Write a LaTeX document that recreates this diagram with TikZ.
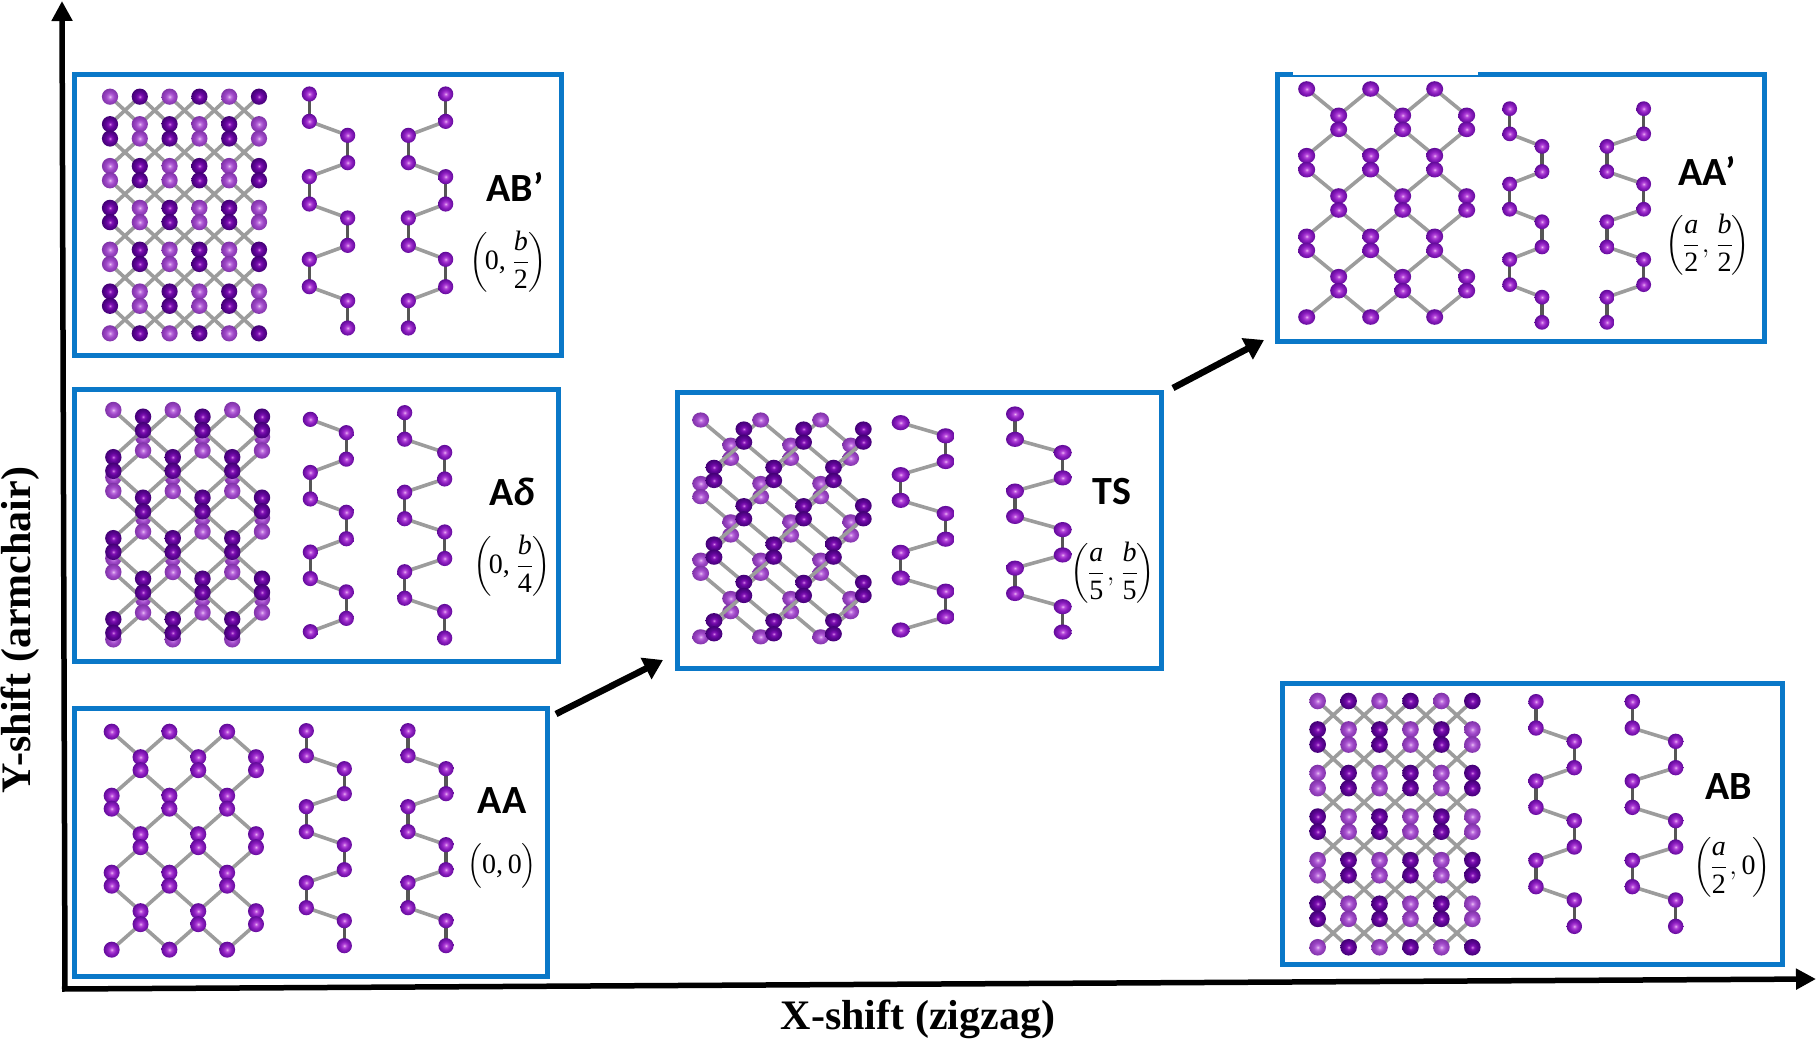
\RequirePackage{fix-cm}
\documentclass[tikz,border=0pt]{standalone}
\usepackage{exscale}
\usepackage{fontspec}
\usetikzlibrary{arrows.meta}
\setmainfont{Liberation Serif}
\newfontfamily\timesf{Liberation Serif}
\newfontfamily\lblf{Carlito}
\definecolor{panelblue}{HTML}{0A78C8}
\definecolor{bondlight}{HTML}{9C9C9C}
\definecolor{bonddark}{HTML}{565656}
\pgfdeclareradialshading{atommid}{\pgfpointorigin}{rgb(0bp)=(0.93,0.72,0.96); rgb(5bp)=(0.72,0.30,0.86); rgb(13bp)=(0.56,0.12,0.76); rgb(25bp)=(0.38,0.04,0.60); rgb(50bp)=(0.38,0.04,0.60)}
\pgfdeclareradialshading{atomdark}{\pgfpointorigin}{rgb(0bp)=(0.85,0.55,0.92); rgb(5bp)=(0.52,0.08,0.72); rgb(13bp)=(0.38,0.02,0.60); rgb(25bp)=(0.26,0.00,0.46); rgb(50bp)=(0.26,0.00,0.46)}
\pgfdeclareradialshading{atomlight}{\pgfpointorigin}{rgb(0bp)=(0.93,0.78,0.96); rgb(5bp)=(0.75,0.45,0.88); rgb(13bp)=(0.62,0.28,0.78); rgb(25bp)=(0.50,0.20,0.66); rgb(50bp)=(0.50,0.20,0.66)}
\tikzset{
  panelbox/.style={draw=panelblue,line width=5pt,fill=white,inner sep=0pt},
  bondS/.style={draw=bondlight,line width=3.6pt},
  bondV/.style={draw=bonddark,line width=3.6pt},
  axisline/.style={draw=black,line width=5.5pt,-{Triangle[length=20pt,width=20pt]}},
  shiftarrow/.style={draw=black,line width=6.5pt,-{Triangle[length=19pt,width=23pt]}},
  structname/.style={font=\lblf\bfseries\fontsize{40}{44}\selectfont,inner sep=0pt},
  shiftval/.style={inner sep=0pt,font=\fontsize{28}{32}\selectfont},
  axislabel/.style={font=\bfseries\fontsize{42}{46}\selectfont,inner sep=0pt},
  zoomed/.style={x=0.33333pt,y=-0.33333pt,shift={#1}}
}
% arguments: x0 dx y0 a v parity kmin kmax; look from \atomsh \arx \ary
\newcommand\latLayer[8]{%
  \foreach \k in {#7,...,#8}{%
    \pgfmathsetmacro\yk{#3+ceil(\k/2)*#4+floor(\k/2)*#5}%
    \pgfmathtruncatemacro\gk{ceil(\k/2)}%
    \foreach \c in {0,...,5}{%
      \pgfmathtruncatemacro\on{mod(\gk+\c+#6,2)==0 ? 1 : 0}%
      \ifnum\on=1 \coordinate (L-\k-\c) at ({#1+\c*#2},\yk);\fi
    }%
  }%
  \foreach \k in {#7,...,#8}{%
    \pgfmathtruncatemacro\gk{ceil(\k/2)}%
    \pgfmathtruncatemacro\odd{mod(\k,2)}%
    \pgfmathtruncatemacro\nk{\k+1}%
    \foreach \c in {0,...,5}{%
      \pgfmathtruncatemacro\on{mod(\gk+\c+#6,2)==0 ? 1 : 0}%
      \ifnum\on=1
        \ifnum\k<#8
          \ifnum\odd=1
            \draw[bondV] (L-\k-\c) -- (L-\nk-\c);
          \else
            \pgfmathtruncatemacro\cl{\c-1}%
            \pgfmathtruncatemacro\cr{\c+1}%
            \ifnum\c>0 \draw[bondS] (L-\k-\c) -- (L-\nk-\cl);\fi
            \ifnum\c<5 \draw[bondS] (L-\k-\c) -- (L-\nk-\cr);\fi
          \fi
        \fi
      \fi
    }%
  }%
  \foreach \k in {#7,...,#8}{%
    \pgfmathtruncatemacro\gk{ceil(\k/2)}%
    \foreach \c in {0,...,5}{%
      \pgfmathtruncatemacro\on{mod(\gk+\c+#6,2)==0 ? 1 : 0}%
      \ifnum\on=1
        \shade[shading=\atomsh] (L-\k-\c) ellipse [x radius=\arx pt,y radius=\ary pt];
      \fi
    }%
  }%
}
% arguments: xA xB y0 v g start
\newcommand\chainRow[6]{%
  \pgfmathtruncatemacro\kend{#6+11}%
  \foreach \k in {#6,...,\kend}{%
    \pgfmathtruncatemacro\sd{mod(\k,4)<2 ? 0 : 1}%
    \pgfmathsetmacro\yk{#3+ceil(\k/2)*#4+floor(\k/2)*#5-#6*#4}%
    \pgfmathsetmacro\xk{\sd==0 ? #1 : #2}%
    \coordinate (C-\k) at (\xk,\yk);
  }%
  \foreach \k in {#6,...,\kend}{%
    \pgfmathtruncatemacro\nk{\k+1}%
    \pgfmathtruncatemacro\odd{mod(\k,2)}%
    \ifnum\k<\kend
      \ifnum\odd=0 \draw[bondV] (C-\k) -- (C-\nk);
      \else \draw[bondS] (C-\k) -- (C-\nk);\fi
    \fi
  }%
  \foreach \k in {#6,...,\kend}{%
    \shade[shading=\atomsh] (C-\k) ellipse [x radius=\arx pt,y radius=\ary pt];
  }%
}
\newcommand\ro[1]{\hbox{\timesf#1}}
\newcommand\iv[1]{\hbox{\timesf\itshape#1}}
\newcommand\shiftfrac[1]{\nulldelimiterspace=3.4pt$\displaystyle\left(\mkern-2mu#1\mkern-2mu\right)$}
\begin{document}
\begin{tikzpicture}[x=1pt,y=-1pt]
\useasboundingbox (0,0) rectangle (1816,1042);
% panels
\node[panelbox,minimum width=486.5pt,minimum height=280.5pt] (pABp) at (317.75,214.75) {};
\node[panelbox,minimum width=483.5pt,minimum height=271.5pt] (pAd) at (316.25,525.25) {};
\node[panelbox,minimum width=473pt,minimum height=268pt] (pAA) at (311,842) {};
\node[panelbox,minimum width=484pt,minimum height=276pt] (pTS) at (919.5,530.5) {};
\node[panelbox,minimum width=487pt,minimum height=267pt] (pAAp) at (1521,208) {};
\node[panelbox,minimum width=499.5pt,minimum height=281pt] (pAB) at (1532.25,824) {};
\fill[white] (1293,72.3) rectangle (1478,74.5);
% AB'
\begin{scope}[zoomed={(60pt,-60pt)}]
  \def\arx{8.1}\def\ary{8.1}
  \def\atomsh{atomlight}\latLayer{150}{89.4}{110}{82.5}{43}{0}{0}{11}
  \def\atomsh{atomdark}\latLayer{150}{89.4}{110}{82.5}{43}{1}{0}{11}
  \def\arx{7.6}\def\ary{7.6}\def\atomsh{atommid}
  \chainRow{748}{863}{102}{82}{42}{0}
  \chainRow{1157}{1045}{102}{82}{42}{0}
\end{scope}
% A delta
\begin{scope}[zoomed={(60pt,-380pt)}]
  \def\arx{8.2}\def\ary{8.2}
  \def\atomsh{atomlight}\latLayer{160}{89.2}{90}{80.5}{41}{0}{0}{11}
  \def\atomsh{atomdark}\latLayer{160}{89.2}{29.5}{80.5}{41}{0}{1}{12}
  \def\arx{7.6}\def\ary{7.6}\def\atomsh{atommid}
  \chainRow{751}{859}{118}{79.4}{40}{1}
  \chainRow{1034}{1154}{98}{79.5}{39.8}{0}
\end{scope}
% AA
\begin{scope}[zoomed={(60pt,-700pt)}]
  \def\arx{8}\def\ary{8}\def\atomsh{atommid}
  \latLayer{155}{86.6}{95}{76.5}{39}{0}{0}{11}
  \def\arx{7.6}\def\ary{7.6}
  \chainRow{739}{853}{92}{75}{39}{0}
  \chainRow{1044}{1158}{92}{75}{39}{0}
\end{scope}
% TS
\begin{scope}[zoomed={(670pt,-385pt)}]
  \def\arx{8.4}\def\ary{7.6}
  \def\atomsh{atomlight}\latLayer{92}{90}{105}{75.5}{39.5}{0}{0}{11}
  \def\atomsh{atomdark}\latLayer{132}{89.6}{56.5}{75.5}{39.5}{0}{1}{12}
  \def\arx{9}\def\ary{7.6}\def\atomsh{atommid}
  \chainRow{692}{827}{113}{77}{39.5}{1}
  \chainRow{1035}{1178}{87}{76}{39.6}{0}
\end{scope}
% AA'
\begin{scope}[zoomed={(1270pt,-65pt)}]
  \def\arx{8.5}\def\ary{7.8}\def\atomsh{atommid}
  \latLayer{110}{96}{72}{79}{42}{0}{0}{11}
  \def\arx{7.4}\def\ary{7.4}
  \chainRow{719}{816}{131}{75.5}{37.6}{0}
  \chainRow{1121}{1011}{131}{75.5}{37.6}{0}
\end{scope}
% AB
\begin{scope}[zoomed={(1270pt,-675pt)}]
  \def\arx{8.3}\def\ary{8.3}
  \def\atomsh{atomlight}\latLayer{143}{92.8}{78}{85.3}{45.4}{0}{0}{11}
  \def\atomsh{atomdark}\latLayer{143}{92.8}{78}{85.3}{45.4}{1}{0}{11}
  \def\arx{7.7}\def\ary{7.7}\def\atomsh{atommid}
  \chainRow{798}{913}{80}{79}{40}{0}
  \chainRow{1087}{1217}{80}{79}{40}{0}
\end{scope}
% names
\node[structname] (nABp) at (515,187) {AB’};
\node[structname] (nAd) at (512,492) {A\textit{δ}};
\node[structname] (nAA) at (502,801) {AA};
\node[structname] (nTS) at (1112,492) {TS};
\node[structname] (nAAp) at (1707,171) {AA’};
\node[structname] (nAB) at (1729,787) {AB};
% shift values
\node[shiftval] (vABp) at (508,262) {\shiftfrac{\ro{0,}\,\frac{\iv{b}}{\ro{2}}}};
\node[shiftval] (vAd) at (512,566) {\shiftfrac{\ro{0,}\,\frac{\iv{b}}{\ro{4}}}};
\node[shiftval] (vAA) at (502,866) {$\big(\ro{0,\,0}\big)$};
\node[shiftval] (vTS) at (1113,573) {\shiftfrac{\frac{\iv{a}}{\ro{5}},\frac{\iv{b}}{\ro{5}}}};
\node[shiftval] (vAAp) at (1708,245) {\shiftfrac{\frac{\iv{a}}{\ro{2}},\frac{\iv{b}}{\ro{2}}}};
\node[shiftval] (vAB) at (1732,867) {\shiftfrac{\frac{\iv{a}}{\ro{2}},\ro{0}}};
% transition arrows
\coordinate (a1s) at (556,714);
\coordinate (a1e) at (663,660);
\coordinate (a2s) at (1173,388);
\coordinate (a2e) at (1264,340);
\draw[shiftarrow] (a1s) -- (a1e);
\draw[shiftarrow] (a2s) -- (a2e);
% axes
\coordinate (origin) at (65,988);
\coordinate (ytip) at (62,1);
\coordinate (xstart) at (62,989);
\coordinate (xtip) at (1816,979);
\draw[axisline] (origin) -- (ytip);
\draw[axisline] (xstart) -- (xtip);
\node[axislabel] (xlab) at (918,1019) {X-shift (zigzag)};
\node[axislabel,rotate=90] (ylab) at (20,630) {Y-shift (armchair)};
\end{tikzpicture}
\end{document}
